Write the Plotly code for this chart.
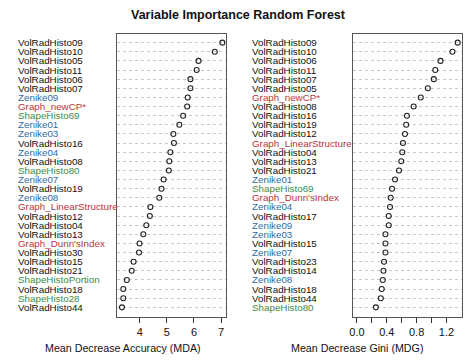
import plotly.graph_objects as go

title = "Variable Importance Random Forest"

mda_labels = ["VolRadHisto09", "VolRadHisto10", "VolRadHisto05", "VolRadHisto11", "VolRadHisto06",
              "VolRadHisto07", "Zenike09", "Graph_newCP*", "ShapeHisto69", "Zenike01",
              "Zenike03", "VolRadHisto16", "Zenike04", "VolRadHisto08", "ShapeHisto80",
              "Zenike07", "VolRadHisto19", "Zenike08", "Graph_LinearStructure", "VolRadHisto12",
              "VolRadHisto04", "VolRadHisto13", "Graph_Dunn'sIndex", "VolRadHisto30", "VolRadHisto15",
              "VolRadHisto21", "ShapeHistoPortion", "VolRadHisto18", "ShapeHisto28", "VolRadHisto44"]
mda_values = [7.05, 6.77, 6.17, 6.10, 5.87, 5.87, 5.77, 5.75, 5.60, 5.46,
              5.24, 5.26, 5.13, 5.09, 5.07, 4.88, 4.80, 4.72, 4.39, 4.37,
              4.24, 4.13, 3.99, 3.97, 3.77, 3.70, 3.52, 3.39, 3.39, 3.34]

mdg_labels = ["VolRadHisto09", "VolRadHisto10", "VolRadHisto06", "VolRadHisto11", "VolRadHisto07",
              "VolRadHisto05", "Graph_newCP*", "VolRadHisto08", "VolRadHisto16", "VolRadHisto19",
              "VolRadHisto12", "Graph_LinearStructure", "VolRadHisto04", "VolRadHisto13", "VolRadHisto21",
              "Zenike01", "ShapeHisto69", "Graph_Dunn'sIndex", "Zenike04", "VolRadHisto17",
              "Zenike09", "Zenike03", "VolRadHisto15", "Zenike07", "VolRadHisto23",
              "VolRadHisto14", "Zenike08", "VolRadHisto18", "VolRadHisto44", "ShapeHisto80"]
mdg_values = [1.35, 1.28, 1.12, 1.05, 1.03, 0.95, 0.855, 0.76, 0.67, 0.66,
              0.643, 0.616, 0.607, 0.594, 0.563, 0.51, 0.47, 0.452, 0.443, 0.426,
              0.426, 0.381, 0.381, 0.381, 0.363, 0.355, 0.346, 0.332, 0.319, 0.253]

mda_title = "Mean Decrease Accuracy (MDA)"
mdg_title = "Mean Decrease Gini (MDG)"
mda_ticks = [4, 5, 6, 7]
mdg_ticks = [0.0, 0.2, 0.4, 0.6, 0.8, 1.0, 1.2]
mdg_ticktext = ["0.0", "", "0.4", "", "0.8", "", "1.2"]

group_colors = {"VolRadHisto": "#111111", "Zenike": "#2f6ca3", "Graph": "#b8343c", "ShapeHisto": "#3c8c45"}


def color_for(label):
    for k, c in group_colors.items():
        if label.startswith(k):
            return c
    return "#111111"


# the page body has an 8px default margin; lay out in window pixels and shift
OFF = 8
WIN_W, WIN_H = 474, 360
W, H = WIN_W - OFF, WIN_H - OFF


def px(x):
    return (x - OFF) / W


def py(y):
    return 1 - (y - OFF) / H


FONT = "Liberation Sans, Arial, sans-serif"
rows = list(range(1, len(mda_labels) + 1))

fig = go.Figure()
fig.add_trace(go.Scatter(x=mda_values, y=rows, mode="markers", xaxis="x", yaxis="y",
                         marker=dict(symbol="circle-open", size=5, color="#222222", line=dict(width=1.1)),
                         showlegend=False, hoverinfo="x+y"))
fig.add_trace(go.Scatter(x=mdg_values, y=rows, mode="markers", xaxis="x2", yaxis="y2",
                         marker=dict(symbol="circle-open", size=5, color="#222222", line=dict(width=1.1)),
                         showlegend=False, hoverinfo="x+y"))

annotations = []
for lab, r in zip(mda_labels, rows):
    annotations.append(dict(x=px(12), xref="paper", y=r, yref="y", text=lab, showarrow=False,
                            xanchor="left", yanchor="middle",
                            font=dict(family=FONT, size=9.8, color=color_for(lab))))
for lab, r in zip(mdg_labels, rows):
    annotations.append(dict(x=px(248), xref="paper", y=r, yref="y2", text=lab, showarrow=False,
                            xanchor="left", yanchor="middle",
                            font=dict(family=FONT, size=9.8, color=color_for(lab))))
annotations.append(dict(x=px(236), y=py(15), xref="paper", yref="paper", text="<b>" + title + "</b>",
                        showarrow=False, xanchor="center", yanchor="middle",
                        font=dict(family=FONT, size=12.5, color="#111111")))
annotations.append(dict(x=px(120), y=py(348), xref="paper", yref="paper", text=mda_title,
                        showarrow=False, xanchor="center", yanchor="middle",
                        font=dict(family=FONT, size=10.7, color="#111111")))
annotations.append(dict(x=px(356), y=py(348), xref="paper", yref="paper", text=mdg_title,
                        showarrow=False, xanchor="center", yanchor="middle",
                        font=dict(family=FONT, size=10.7, color="#111111")))

ydom = [py(317), py(34)]
yrange = [len(rows) + 1.06, 0.05]
common_y = dict(domain=ydom, range=yrange, tickvals=rows, showticklabels=False, ticks="",
                showgrid=True, gridcolor="#c8c8c8", griddash="dot", gridwidth=1,
                showline=True, linecolor="#555555", linewidth=1, mirror=True, zeroline=False)
common_x = dict(showgrid=False, zeroline=False, showline=True, linecolor="#555555", linewidth=1, mirror=True,
                ticks="outside", ticklen=5, tickcolor="#333333", tickwidth=1,
                tickfont=dict(family=FONT, size=11, color="#111111"))

fig.update_layout(
    width=W, height=H,
    margin=dict(l=0, r=0, t=0, b=0),
    paper_bgcolor="white", plot_bgcolor="white",
    xaxis=dict(domain=[px(114), px(224)], range=[3.16, 7.19], tickvals=mda_ticks, anchor="y", **common_x),
    yaxis=dict(anchor="x", **common_y),
    xaxis2=dict(domain=[px(352), px(461.5)], range=[-0.053, 1.403], tickvals=mdg_ticks, ticktext=mdg_ticktext,
                anchor="y2", **common_x),
    yaxis2=dict(anchor="x2", **common_y),
    annotations=annotations,
)

fig.write_html("out.html")
